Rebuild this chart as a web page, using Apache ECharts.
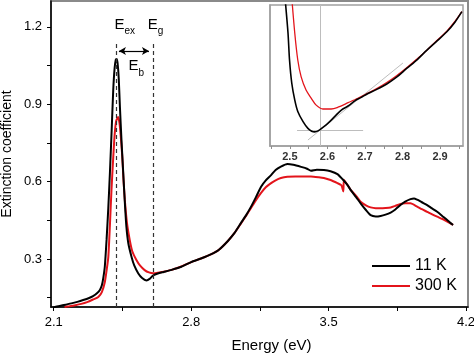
<!DOCTYPE html>
<html>
<head>
<meta charset="utf-8">
<script src="https://cdn.jsdelivr.net/npm/echarts@6/dist/echarts.min.js"></script>
<style>
html,body{margin:0;padding:0;background:#fff;}
#c{width:474px;height:356px;}
</style>
</head>
<body>
<div id="c"></div>
<script>
// ---- data ----
var energy11K = [2.100,2.13,2.16,2.19,2.22,2.25,2.28,2.30,2.32,2.335,2.345,2.352,2.36,2.369,2.378,2.386,2.395,2.403,2.41,2.416,2.42,2.425,2.431,2.437,2.445,2.454,2.462,2.47,2.48,2.496,2.51,2.53,2.55,2.572,2.59,2.606,2.63,2.66,2.70,2.75,2.80,2.85,2.90,2.94,2.987,3.02,3.054,3.08,3.105,3.13,3.156,3.18,3.207,3.23,3.257,3.29,3.32,3.36,3.39,3.41,3.44,3.476,3.51,3.545,3.57,3.596,3.613,3.64,3.663,3.69,3.714,3.74,3.765,3.79,3.816,3.84,3.866,3.89,3.917,3.935,3.951,3.975,4.002,4.025,4.053,4.08,4.104,4.12,4.134];
var ext11K    = [0.113,0.118,0.123,0.128,0.134,0.141,0.149,0.156,0.167,0.180,0.198,0.225,0.27,0.374,0.50,0.633,0.80,0.955,1.04,1.072,1.075,1.06,1.00,0.89,0.76,0.633,0.52,0.425,0.36,0.309,0.275,0.245,0.226,0.217,0.224,0.236,0.244,0.250,0.258,0.270,0.288,0.302,0.318,0.335,0.370,0.40,0.44,0.47,0.503,0.54,0.58,0.605,0.625,0.645,0.658,0.668,0.665,0.657,0.650,0.642,0.646,0.645,0.640,0.629,0.61,0.587,0.567,0.540,0.516,0.490,0.470,0.465,0.467,0.472,0.480,0.492,0.509,0.522,0.532,0.535,0.530,0.520,0.509,0.497,0.483,0.466,0.451,0.440,0.432];

var energy300K = [2.155,2.18,2.21,2.24,2.27,2.30,2.327,2.345,2.36,2.37,2.378,2.386,2.394,2.402,2.41,2.418,2.428,2.436,2.443,2.449,2.455,2.462,2.473,2.487,2.50,2.521,2.54,2.563,2.585,2.606,2.63,2.66,2.70,2.75,2.80,2.85,2.90,2.94,2.987,3.02,3.054,3.08,3.105,3.13,3.156,3.18,3.207,3.23,3.257,3.29,3.33,3.36,3.41,3.45,3.476,3.51,3.545,3.565,3.575,3.578,3.595,3.613,3.64,3.663,3.69,3.714,3.74,3.765,3.79,3.816,3.84,3.866,3.89,3.917,3.951,3.975,4.002,4.025,4.053,4.08,4.104,4.134];
var ext300K    = [0.114,0.117,0.121,0.126,0.133,0.143,0.153,0.172,0.21,0.26,0.308,0.43,0.567,0.68,0.78,0.835,0.85,0.82,0.76,0.697,0.61,0.529,0.44,0.374,0.33,0.296,0.274,0.257,0.248,0.245,0.247,0.251,0.258,0.271,0.288,0.302,0.318,0.335,0.370,0.40,0.438,0.468,0.498,0.528,0.556,0.578,0.594,0.605,0.614,0.619,0.620,0.620,0.620,0.617,0.614,0.606,0.594,0.586,0.562,0.606,0.588,0.567,0.545,0.522,0.508,0.500,0.497,0.497,0.498,0.500,0.506,0.513,0.516,0.516,0.503,0.493,0.483,0.474,0.464,0.455,0.445,0.432];

// inset (zoom on the absorption edge)
var insetEnergy11K = [2.487,2.495,2.499,2.505,2.513,2.521,2.535,2.548,2.558,2.566,2.575,2.588,2.601,2.619,2.637,2.655,2.673,2.69,2.708,2.73,2.758,2.785,2.811,2.84,2.865,2.89,2.918,2.94,2.958];
var insetExt11K    = [0.41,0.360,0.322,0.289,0.265,0.249,0.2345,0.225,0.221,0.220,0.2215,0.2265,0.232,0.2416,0.251,0.2567,0.264,0.269,0.2745,0.280,0.288,0.298,0.310,0.323,0.336,0.348,0.362,0.376,0.3905];
var insetEnergy300K = [2.505,2.513,2.521,2.530,2.543,2.557,2.570,2.588,2.61,2.628,2.655,2.681,2.708,2.73,2.758,2.785,2.811,2.84,2.865,2.89,2.918,2.94,2.958];
var insetExt300K    = [0.41,0.36,0.322,0.298,0.2794,0.2677,0.258,0.2525,0.2525,0.255,0.2614,0.2677,0.2750,0.281,0.290,0.300,0.311,0.324,0.336,0.349,0.363,0.377,0.3905];

// annotation values
var excitonEnergy = 2.42;   // E_ex
var gapEnergy = 2.607;      // E_g
var insetGuideX = 2.58;
var insetGuideY = 0.2217;
var insetGuideYRange = [2.519, 2.695];
var insetTangent = [[2.548, 0.2085], [2.801, 0.3177]];

var xMajor = [2.1, 2.8, 3.5, 4.2];
var xTicks = [2.1, 2.45, 2.8, 3.15, 3.5, 3.85, 4.2];
var yMajor = [0.3, 0.6, 0.9, 1.2];
var yTicks = [0.15, 0.3, 0.45, 0.6, 0.75, 0.9, 1.05, 1.2];
var insetXMajor = [2.5, 2.6, 2.7, 2.8, 2.9];
var insetXTicks = [2.45, 2.5, 2.55, 2.6, 2.65, 2.7, 2.75, 2.8, 2.85, 2.9, 2.95];

function pairs(xs, ys) { return xs.map(function (x, i) { return [x, ys[i]]; }); }

var FONT = 'Liberation Sans, Arial, sans-serif';
var BLACK = '#000000';
var RED = '#e3141b';

var chart = echarts.init(document.getElementById('c'), null, {renderer: 'canvas'});

var labelRich = {
  e: {fontSize: 15, fontFamily: FONT, color: '#000', lineHeight: 16, verticalAlign: 'top'},
  s: {fontSize: 10, fontFamily: FONT, color: '#000', lineHeight: 10, padding: [9, 0, 0, 0], verticalAlign: 'top'}
};

var option = {
  animation: false,
  backgroundColor: '#fff',
  textStyle: {fontFamily: FONT},
  grid: [
    {left: 51, right: 6, top: 1, bottom: 49, show: true, borderColor: '#8a8a8a', borderWidth: 2, backgroundColor: 'transparent', outerBoundsMode: 'none', containLabel: false},
    {left: 270, top: 5, width: 193, height: 141, show: true, borderColor: '#a0a0a0', borderWidth: 1.5, backgroundColor: '#fff', outerBoundsMode: 'none', containLabel: false}
  ],
  legend: {
    orient: 'vertical', left: 372, top: 258, itemWidth: 38, itemHeight: 2, itemGap: 4, padding: 0,
    icon: 'rect',
    data: ['11 K', '300 K'],
    textStyle: {fontSize: 16, fontFamily: FONT, color: '#000', lineHeight: 16}
  },
  xAxis: [
    {
      gridIndex: 0, type: 'value', min: 2.086, max: 4.21,
      name: 'Energy (eV)', nameLocation: 'middle', nameGap: 31, nameMoveOverlap: false,
      nameTextStyle: {fontSize: 15, fontFamily: FONT, color: '#000', padding: [0, 0, 0, 24]},
      axisLine: {show: true, onZero: false, lineStyle: {color: '#000', width: 1.5}},
      axisTick: {show: true, length: 4, customValues: xTicks, lineStyle: {color: '#000', width: 1}},
      axisLabel: {customValues: xMajor, fontSize: 13, fontFamily: FONT, color: '#000', margin: 9,
        formatter: function (v) { return (+v).toFixed(1); }},
      splitLine: {show: false}
    },
    {
      gridIndex: 1, type: 'value', min: 2.447, max: 2.961,
      axisLine: {show: true, onZero: false, lineStyle: {color: '#a0a0a0', width: 1.5}},
      axisTick: {show: true, length: 3, customValues: insetXTicks, lineStyle: {color: '#909090', width: 1}},
      axisLabel: {customValues: insetXMajor, fontSize: 11, fontWeight: 'bold', fontFamily: FONT, color: '#333', margin: 5,
        formatter: function (v) { return (+v).toFixed(1); }},
      splitLine: {show: false}
    }
  ],
  yAxis: [
    {
      gridIndex: 0, type: 'value', min: 0.114, max: 1.30,
      name: 'Extinction coefficient', nameLocation: 'middle', nameGap: 37, nameRotate: 90, nameMoveOverlap: false,
      nameTextStyle: {fontSize: 14, fontFamily: FONT, color: '#000'},
      axisLine: {show: true, onZero: false, lineStyle: {color: '#000', width: 1.5}},
      axisTick: {show: true, length: 4, customValues: yTicks, lineStyle: {color: '#000', width: 1}},
      axisLabel: {customValues: yMajor, fontSize: 13, fontFamily: FONT, color: '#000', margin: 9,
        formatter: function (v) { return (+v).toFixed(1); }},
      splitLine: {show: false}
    },
    {
      gridIndex: 1, type: 'value', min: 0.2, max: 0.4,
      axisLine: {show: true, onZero: false, lineStyle: {color: '#a0a0a0', width: 1.5}},
      axisTick: {show: false}, axisLabel: {show: false}, splitLine: {show: false}
    }
  ],
  series: [
    {
      name: '11 K', type: 'line', xAxisIndex: 0, yAxisIndex: 0, showSymbol: false, smooth: 0.2,
      data: pairs(energy11K, ext11K), z: 4,
      lineStyle: {color: BLACK, width: 2}, itemStyle: {color: BLACK},
      markLine: {
        silent: true, symbol: 'none', animation: false, label: {show: false},
        lineStyle: {color: '#333', width: 1.2, type: [4, 3]},
        data: [
          [{coord: [excitonEnergy, 0.114]}, {coord: [excitonEnergy, 1.145]}],
          [{coord: [gapEnergy, 0.114]}, {coord: [gapEnergy, 1.14]}]
        ]
      },
      markPoint: {
        silent: true, symbol: 'rect', symbolSize: 1, itemStyle: {color: 'rgba(0,0,0,0)'},
        label: {show: true, position: 'inside', rich: labelRich},
        data: [
          {coord: [2.462, 1.205], label: {formatter: '{e|E}{s|ex}'}},
          {coord: [2.618, 1.205], label: {formatter: '{e|E}{s|g}'}},
          {coord: [2.52, 1.045], label: {formatter: '{e|E}{s|b}'}}
        ]
      }
    },
    {
      name: '300 K', type: 'line', xAxisIndex: 0, yAxisIndex: 0, showSymbol: false, smooth: 0.2,
      data: pairs(energy300K, ext300K), z: 3,
      lineStyle: {color: RED, width: 2}, itemStyle: {color: RED},
      markLine: {
        silent: true, symbol: ['arrow', 'arrow'], symbolSize: [6, 7], animation: false, label: {show: false},
        lineStyle: {color: '#000', width: 1.2, type: 'solid'},
        data: [
          [{coord: [excitonEnergy + 0.012, 1.106]}, {coord: [gapEnergy - 0.022, 1.106]}]
        ]
      }
    },
    {
      name: '11 K', type: 'line', xAxisIndex: 1, yAxisIndex: 1, showSymbol: false, smooth: 0.3,
      data: pairs(insetEnergy11K, insetExt11K), z: 6, clip: true,
      lineStyle: {color: BLACK, width: 1.6}, itemStyle: {color: BLACK},
      markLine: {
        silent: true, symbol: 'none', animation: false, label: {show: false},
        lineStyle: {color: '#bdbdbd', width: 1, type: 'solid'},
        data: [
          [{coord: [insetGuideX, 0.2]}, {coord: [insetGuideX, 0.4]}],
          [{coord: [insetGuideYRange[0], insetGuideY]}, {coord: [insetGuideYRange[1], insetGuideY]}],
          [{coord: insetTangent[0]}, {coord: insetTangent[1]}]
        ]
      }
    },
    {
      name: '300 K', type: 'line', xAxisIndex: 1, yAxisIndex: 1, showSymbol: false, smooth: 0.3,
      data: pairs(insetEnergy300K, insetExt300K), z: 5, clip: true,
      lineStyle: {color: RED, width: 1.3}, itemStyle: {color: RED}
    }
  ]
};
chart.setOption(option);
</script>
</body>
</html>
